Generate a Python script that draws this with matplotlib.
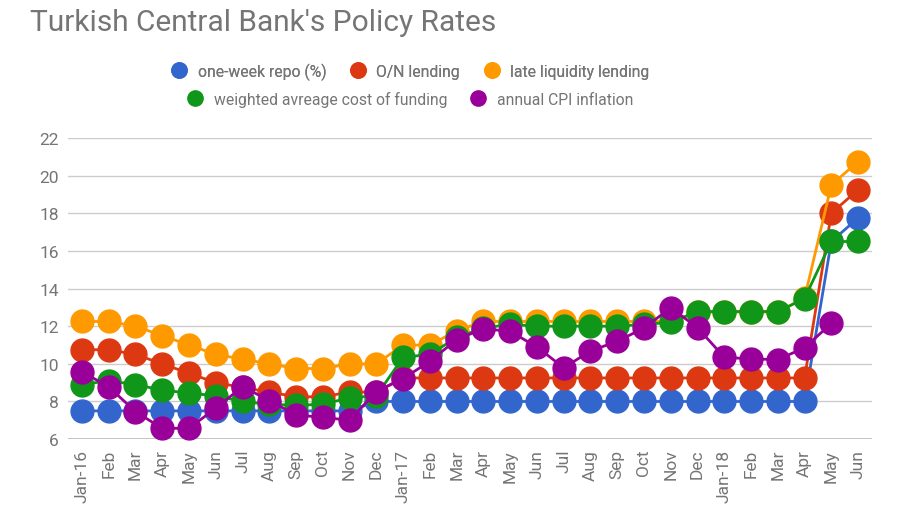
import numpy as np
import matplotlib.pyplot as plt
from matplotlib.lines import Line2D

months = ['Jan-16', 'Feb', 'Mar', 'Apr', 'May', 'Jun', 'Jul', 'Aug', 'Sep', 'Oct', 'Nov', 'Dec',
          'Jan-17', 'Feb', 'Mar', 'Apr', 'May', 'Jun', 'Jul', 'Aug', 'Sep', 'Oct', 'Nov', 'Dec',
          'Jan-18', 'Feb', 'Mar', 'Apr', 'May', 'Jun']

repo = [7.5, 7.5, 7.5, 7.5, 7.5, 7.5, 7.5, 7.5, 7.5, 7.5, 7.5, 8.0,
        8.0, 8.0, 8.0, 8.0, 8.0, 8.0, 8.0, 8.0, 8.0, 8.0, 8.0, 8.0,
        8.0, 8.0, 8.0, 8.0, 16.5, 17.75]
on_lending = [10.75, 10.75, 10.5, 10.0, 9.5, 9.0, 8.75, 8.5, 8.25, 8.25, 8.5, 8.5,
              9.25, 9.25, 9.25, 9.25, 9.25, 9.25, 9.25, 9.25, 9.25, 9.25, 9.25, 9.25,
              9.25, 9.25, 9.25, 9.25, 18.0, 19.25]
late_liq = [12.25, 12.25, 12.0, 11.5, 11.0, 10.5, 10.25, 10.0, 9.75, 9.75, 10.0, 10.0,
            11.0, 11.0, 11.75, 12.25, 12.25, 12.25, 12.25, 12.25, 12.25, 12.25, 12.25, 12.75,
            12.75, 12.75, 12.75, 13.5, 19.5, 20.75]
wacf = [8.9, 9.1, 8.9, 8.6, 8.45, 8.3, 8.0, 7.85, 7.8, 7.85, 8.2, 8.3,
        10.35, 10.5, 11.4, 11.9, 12.1, 12.0, 12.0, 12.0, 12.0, 12.1, 12.2, 12.78,
        12.78, 12.78, 12.78, 13.47, 16.5, 16.5]
cpi = [9.58, 8.78, 7.46, 6.57, 6.58, 7.64, 8.79, 8.05, 7.28, 7.16, 7.0, 8.53,
       9.22, 10.13, 11.29, 11.87, 11.72, 10.9, 9.79, 10.68, 11.2, 11.9, 12.98, 11.92,
       10.35, 10.26, 10.23, 10.85, 12.15, np.nan]

series = [
    ('one-week repo (%)', repo, '#3366cc'),
    ('O/N lending', on_lending, '#dc3912'),
    ('late liquidity lending', late_liq, '#ff9900'),
    ('weighted avreage cost of funding', wacf, '#109618'),
    ('annual CPI inflation', cpi, '#990099'),
]

plt.rcParams['font.family'] = ['Roboto', 'DejaVu Sans']
grey = '#757575'

fig = plt.figure(figsize=(9, 5.1), dpi=100)
ax = fig.add_axes([0.0756, 0.137, 0.8933, 0.5905])

x = np.arange(len(months))
for i, (name, vals, col) in enumerate(series):
    ax.plot(x, vals, color=col, lw=2, marker='o', markersize=16.5,
            clip_on=False, zorder=3 + i)

ax.set_xlim(-0.52, len(months) - 0.48)
ax.set_ylim(6, 22)
ax.set_yticks(range(6, 23, 2))
ax.set_xticks(x)
ax.set_xticklabels(months, rotation=90)
ax.tick_params(axis='both', length=0, colors=grey, labelsize=12.5)
ax.tick_params(axis='y', pad=6.5)
ax.tick_params(axis='x', pad=7)
ax.grid(axis='y', color='#cccccc', lw=1)
ax.set_axisbelow(True)
for s in ax.spines.values():
    s.set_visible(False)
ax.axhline(6, color='#bbbbbb', lw=1.2, zorder=1)

fig.text(0.033, 0.955, "Turkish Central Bank's Policy Rates", fontsize=21.5,
         color=grey, va='center', ha='left')

def handles(items):
    return [Line2D([], [], ls='none', marker='o', markersize=11, color=c) for _, _, c in items]

row1 = series[:3]
row2 = series[3:]
leg1 = fig.legend(handles(row1), [n for n, _, _ in row1], loc='center', ncol=3,
                  bbox_to_anchor=(0.455, 0.859), frameon=False, fontsize=11.3,
                  handlelength=1.2, handletextpad=0.6, columnspacing=1.4, labelcolor=grey)
leg2 = fig.legend(handles(row2), [n for n, _, _ in row2], loc='center', ncol=2,
                  bbox_to_anchor=(0.455, 0.804), frameon=False, fontsize=11.3,
                  handlelength=1.2, handletextpad=0.6, columnspacing=1.4, labelcolor=grey)
fig.add_artist(leg1)

fig.savefig('out.png', dpi=100)
